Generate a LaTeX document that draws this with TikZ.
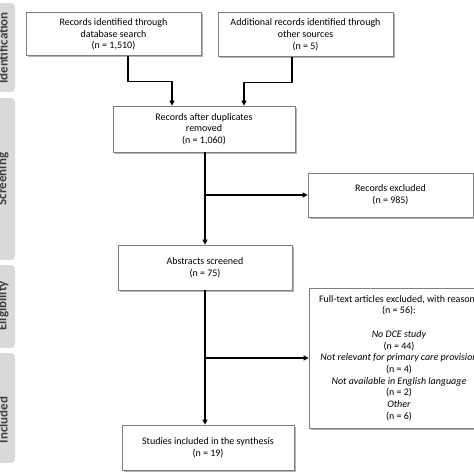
\documentclass[tikz,border=0pt]{standalone}
\usepackage{fontspec}
\setmainfont{Carlito}
\usetikzlibrary{arrows.meta,shadows,calc}
\definecolor{bandgrey}{HTML}{D9D9D9}
\definecolor{bandtext}{HTML}{404040}
\definecolor{boxline}{HTML}{7F7F7F}
\begin{document}
\begin{tikzpicture}[x=1pt,y=-1pt,
  box/.style={draw=boxline,line width=0.8pt,fill=white,align=center,inner sep=2pt,
    font=\fontsize{10}{11.7}\selectfont,
    drop shadow={shadow xshift=1.6pt,shadow yshift=-1.6pt,fill=black!30,opacity=1}},
  band/.style={fill=bandgrey,rounded corners=4pt,draw=none},
  bandlabel/.style={rotate=90,font=\fontsize{13}{14}\selectfont\bfseries,text=bandtext,inner sep=0pt},
  arr/.style={line width=1.2pt,-{Triangle[length=5pt,width=5pt]}}]
\useasboundingbox (0,0) rectangle (474,474);
% side bands
\fill[band] (-10,3) rectangle (15,92);
\fill[band] (-10,98) rectangle (15,260);
\fill[band] (-10,265) rectangle (15,348);
\fill[band] (-10,353) rectangle (15,463);
\node[bandlabel] (lid) at (3,48) {Identification};
\node[bandlabel] (lsc) at (3,179) {Screening};
\node[bandlabel] (lel) at (3,306) {Eligibility};
\node[bandlabel] (lin) at (3,420) {Included};
% boxes
\node[box,minimum width=175pt,minimum height=43pt] (b1) at (113.5,34.3)
  {Records identified through\\database search\\(n = 1,510)};
\node[box,minimum width=175pt,minimum height=44pt] (b2) at (305.5,34.8)
  {Additional records identified through\\other sources\\(n = 5)};
\node[box,minimum width=182pt,minimum height=46pt] (b3) at (204,129)
  {Records after duplicates\\removed\\(n = 1,060)};
\node[box,minimum width=165pt,minimum height=44pt] (ex) at (390.5,195)
  {Records excluded\\(n = 985)};
\node[box,minimum width=174pt,minimum height=45pt] (ab) at (205,267.5)
  {Abstracts screened\\(n = 75)};
\node[box,minimum width=180pt,minimum height=140pt] (ft) at (399,358)
  {Full-text articles excluded, with reasons\\(n = 56):\\[11.7pt]
   \textit{No DCE study}\\(n = 44)\\\textit{Not relevant for primary care provision}\\(n = 4)\\
   \textit{Not available in English language}\\(n = 2)\\\textit{Other}\\(n = 6)};
\node[box,minimum width=172pt,minimum height=45pt] (st) at (208,447.5)
  {Studies included in the synthesis\\(n = 19)};
% connectors
\draw[arr] ($(b1.south)+(14.5,0)$) -- ++(0,25) -| ($(b3.north)+(-32,0)$);
\draw[arr] ($(b2.south)+(-13.5,0)$) -- ++(0,25) -| ($(b3.north)+(40,0)$);
\draw[arr] ($(b3.south)+(1,0)$) -- ($(ab.north)+(0,0)$);
\draw[arr] ($(b3.south)+(1,0)$) |- (ex.west);
\draw[arr] (ab.south) -- (ab.south |- st.north);
\draw[arr] (ab.south) |- (ft.west);
\end{tikzpicture}
\end{document}
